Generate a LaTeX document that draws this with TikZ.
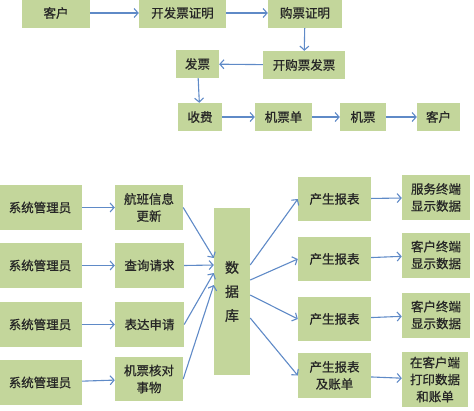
\documentclass[tikz,border=0pt]{standalone}
\usepackage{fontspec}
\newfontfamily\cjk[FakeBold=0.7]{Noto Sans CJK SC}
\usepackage{tikz}
\usetikzlibrary{arrows.meta}
\definecolor{boxgreen}{HTML}{C3D69B}
\definecolor{linkblue}{HTML}{5F8AC7}
\tikzset{
	box/.style={fill=boxgreen, text=black!85, inner sep=0pt, align=center,
		font=\cjk\fontsize{12.5}{17}\selectfont},
	link/.style={-{Straight Barb[length=4pt,width=9pt]}, draw=linkblue, line width=1.1pt}
}
\begin{document}
\begin{tikzpicture}[x=1pt, y=-1pt]
			\useasboundingbox (0, 0) rectangle (474, 410);
			% upper flow
			\node at (56, 13) [box, minimum width=68pt, minimum height=30pt] (kehu1) {客户};
			\node at (182.5, 13) [box, minimum width=87pt, minimum height=30pt] (kaizm) {开发票证明};
			\node at (305, 13) [box, minimum width=74pt, minimum height=30pt] (goupzm) {购票证明};
			\node at (304, 65) [box, minimum width=82pt, minimum height=28pt] (kaigp) {开购票发票};
			\node at (197.5, 64) [box, minimum width=43pt, minimum height=28pt] (fapiao) {发票};
			\node at (200, 117) [box, minimum width=44pt, minimum height=28pt] (shoufei) {收费};
			\node at (283.5, 117) [box, minimum width=57pt, minimum height=28pt] (jpdan) {机票单};
			\node at (363, 117) [box, minimum width=46pt, minimum height=28pt] (jipiao) {机票};
			\node at (438.5, 117) [box, minimum width=43pt, minimum height=28pt] (kehu2) {客户};
			\draw [link](kehu1) -- (kaizm);
			\draw [link](kaizm) -- (goupzm);
			\draw [link](goupzm) -- (kaigp);
			\draw [link](kaigp) -- (fapiao);
			\draw [link](fapiao) -- (shoufei);
			\draw [link](shoufei) -- (jpdan);
			\draw [link](jpdan) -- (jipiao);
			\draw [link](jipiao) -- (kehu2);
			% lower flow
			\node at (40, 207.5) [box, minimum width=84pt, minimum height=45pt] (admin1) {系统管理员};
			\node at (40, 265.5) [box, minimum width=84pt, minimum height=45pt] (admin2) {系统管理员};
			\node at (40, 324.5) [box, minimum width=84pt, minimum height=45pt] (admin3) {系统管理员};
			\node at (40, 382.5) [box, minimum width=84pt, minimum height=45pt] (admin4) {系统管理员};
			\node at (149, 207.5) [box, minimum width=68pt, minimum height=45pt] (gengxin) {航班信息\\更新};
			\node at (149.5, 265.5) [box, minimum width=69pt, minimum height=45pt] (chaxun) {查询请求};
			\node at (149.5, 324.5) [box, minimum width=69pt, minimum height=45pt] (shenqing) {表达申请};
			\node at (149, 379) [box, minimum width=68pt, minimum height=44pt] (hedui) {机票核对\\事物};
			\node at (232, 291.5) [box, minimum width=36pt, minimum height=167pt,
				font=\cjk\fontsize{14}{24}\selectfont] (db) {数\\据\\库};
			\node at (334.5, 199) [box, minimum width=73pt, minimum height=44pt] (baobiao1) {产生报表};
			\node at (334.5, 259) [box, minimum width=73pt, minimum height=44pt] (baobiao2) {产生报表};
			\node at (334.5, 319) [box, minimum width=73pt, minimum height=44pt] (baobiao3) {产生报表};
			\node at (334.5, 375.5) [box, minimum width=73pt, minimum height=45pt] (baobiao4) {产生报表\\及账单};
			\node at (436, 197.5) [box, minimum width=68pt, minimum height=45pt] (xianshi1) {服务终端\\显示数据};
			\node at (436, 255) [box, minimum width=68pt, minimum height=45pt] (xianshi2) {客户终端\\显示数据};
			\node at (436, 315) [box, minimum width=68pt, minimum height=45pt] (xianshi3) {客户终端\\显示数据};
			\node at (435, 379.5) [box, minimum width=66pt, minimum height=55pt] (dayin) {在客户端\\打印数据\\和账单};
			\draw [link](admin1) -- (gengxin);
			\draw [link](admin2) -- (chaxun);
			\draw [link](admin3) -- (shenqing);
			\draw [link](admin4) -- (hedui);
			\draw [link](gengxin.east) -- ([yshift=33.5pt]db.west);
			\draw [link](chaxun.east) -- ([yshift=26.5pt]db.west);
			\draw [link](shenqing.east) -- ([yshift=18.5pt]db.west);
			\draw [link](hedui.east) -- ([yshift=6.5pt]db.west);
			\draw [link]([yshift=26.5pt]db.east) -- (baobiao1.west);
			\draw [link]([yshift=11.5pt]db.east) -- (baobiao2.west);
			\draw [link]([yshift=-3.5pt]db.east) -- (baobiao3.west);
			\draw [link]([yshift=-26.5pt]db.east) -- (baobiao4.west);
			\draw [link](baobiao1) -- (xianshi1);
			\draw [link](baobiao2) -- (xianshi2);
			\draw [link](baobiao3) -- (xianshi3);
			\draw [link](baobiao4) -- (dayin);
		\end{tikzpicture}
\end{document}
